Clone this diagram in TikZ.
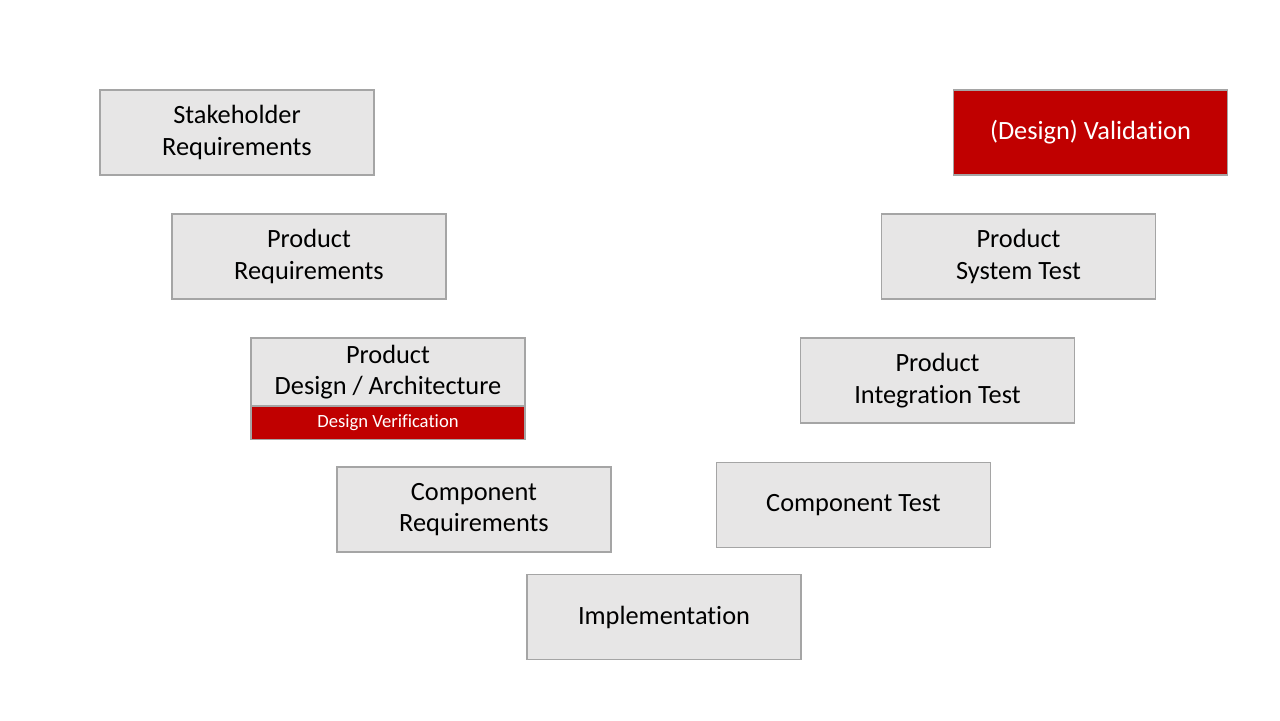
\documentclass[tikz,border=0pt]{standalone}
\usepackage{fontspec}
\setmainfont{Carlito}[Ligatures={NoCommon}]
\usetikzlibrary{positioning}

\definecolor{boxgray}{HTML}{E7E6E6}
\definecolor{edgegray}{HTML}{A5A5A5}
\definecolor{darkred}{HTML}{C00000}

\begin{document}
\begin{tikzpicture}[x=0.02cm,y=-0.02cm]
		\tikzstyle{phase}=[draw=edgegray,line width=0.8pt,fill=boxgray,minimum width=5.48cm,minimum height=1.7cm,align=center,inner sep=0pt,font=\fontsize{15}{18}\selectfont]
		\tikzstyle{redphase}=[phase,fill=darkred,text=white]
		\tikzstyle{verify}=[redphase,minimum height=0.66cm,font=\fontsize{10.6}{12}\selectfont]
		
		\useasboundingbox (0,0) rectangle (1280,720);
		
		% left leg
		\node[phase] (stake) at (237,132.5) {Stakeholder\\Requirements};
		\node[phase] (prodreq) at (309,256.5) {Product\\Requirements};
		\node[phase,minimum height=1.36cm] (arch) at (388,372) {Product\\Design / Architecture};
		\node[verify] (dver) at (388,423) {Design Verification};
		\node[phase] (compreq) at (474,509.5) {Component\\Requirements};
		
		% bottom
		\node[phase] (impl) at (664,617) {Implementation};
		
		% right leg
		\node[phase] (comptest) at (853.5,505) {Component Test};
		\node[phase] (integ) at (937.5,380.5) {Product\\Integration Test};
		\node[phase] (systest) at (1018.5,256.5) {Product\\System Test};
		\node[redphase] (valid) at (1090.5,132.5) {(Design) Validation};
\end{tikzpicture}
\end{document}
